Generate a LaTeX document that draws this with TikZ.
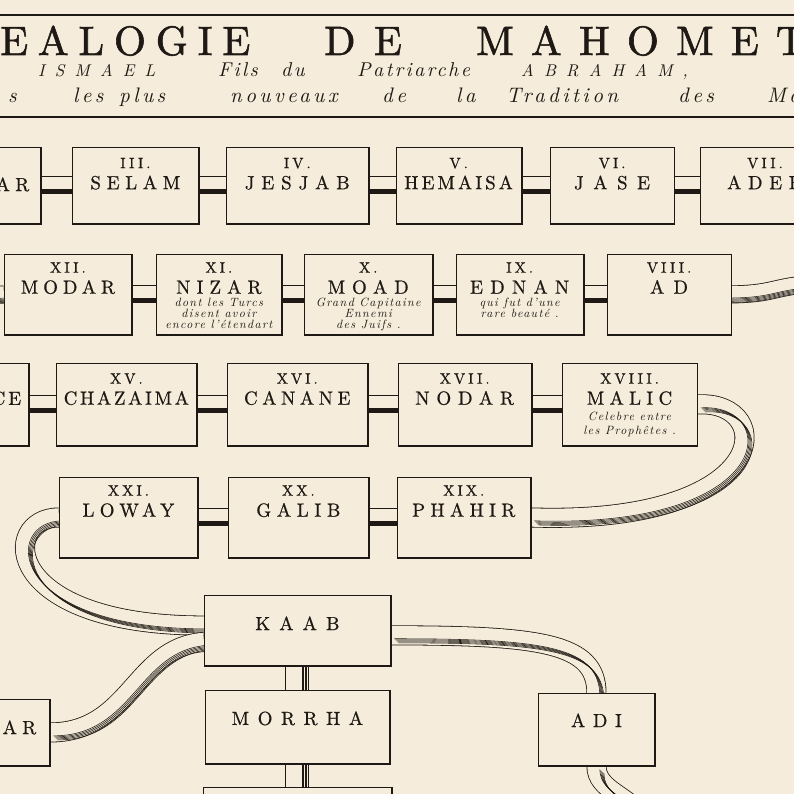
\documentclass[tikz,border=0pt]{standalone}
\usepackage{fontspec}
\setmainfont{lmroman10-regular.otf}[ItalicFont=lmroman10-italic.otf, BoldFont=lmroman10-bold.otf]
\newfontfamily\namefont{lmroman10-regular.otf}[FakeBold=0.6]
\newfontfamily\titlefont{lmroman10-regular.otf}[FakeBold=1.4]
\usetikzlibrary{positioning,backgrounds}

\definecolor{paper}{RGB}{245,236,219}
\definecolor{ink}{RGB}{30,25,20}

% text inside the boxes
\newcommand\gnum[1]{{\fontsize{15bp}{21bp}\namefont\addfontfeatures{LetterSpace=20}#1\par}}
\newcommand\gname[2][30]{{\fontsize{19bp}{21bp}\namefont\addfontfeatures{LetterSpace=#1}#2\par}}
\newcommand\gdesc[2][11bp]{\vspace{2bp}{\fontsize{12bp}{#1}\selectfont\itshape\addfontfeatures{LetterSpace=11}#2\par}}

% engraved tube joining two boxes, hatched on the side (#2,#3)
\newcommand\tube[4][18]{%
  \draw[ink, line width=#1bp] #4;
  \draw[paper, line width=#1bp-1.6bp] #4;
  \foreach \hh in {0.4,0.52,0.64,0.76,0.88}
    \draw[ink, line width=.55bp, transform canvas={shift={(#2*\hh*#1/2,#3*\hh*#1/2)}}] #4;
}

\begin{document}
\begin{tikzpicture}[x=1bp, y=-1bp,
    box/.style n args={3}{draw=ink, fill=paper, text=ink, line width=.9bp, inner sep=0pt, anchor=north west,
      execute at begin node={\begin{minipage}[c][#2][t]{#1}\centering\vspace*{#3}},
      execute at end node={\end{minipage}}},
    stub/.style={draw=ink, fill=paper, line width=.9bp, inner sep=0pt, minimum width=188bp, minimum height=60bp},
    boxshade/.style={draw=ink, line width=1.9bp},
    head/.style={inner sep=0pt, anchor=base west, text=ink},
    title/.style={head, font=\fontsize{41bp}{41bp}\titlefont},
    capsline/.style={head, font=\fontsize{17bp}{17bp}\selectfont\itshape\addfontfeatures{LetterSpace=60}},
    script/.style={head, font=\fontsize{20bp}{20bp}\selectfont\itshape\addfontfeatures{LetterSpace=12}},
  ]
\begin{scope}[on background layer]
  \clip (0,0) rectangle (794,794);
  \fill[paper] (0,0) rectangle (794,794);
\end{scope}
\useasboundingbox (0,0) rectangle (794,794);
\clip (0,0) rectangle (794,794);

% header
\draw[ink, line width=2.2bp] (0,15) -- (794,15);
\draw[ink, line width=2.4bp] (0,117) -- (794,117);
\node[title] (titA) at (0,55) {\addfontfeatures{LetterSpace=24}EALOGIE};
\node[title] (titB) at (324,55) {\addfontfeatures{LetterSpace=45}DE};
\node[title] (titC) at (476,55) {\addfontfeatures{LetterSpace=42}MAHOMET};
\node[capsline] (ismael) at (38,77) {ISMAEL};
\node[script] (fils) at (218,77) {Fils};
\node[script] (du) at (281,77) {du};
\node[script] (patri) at (357,77) {Patriarche};
\node[capsline] (abraham) at (521,77) {ABRAHAM,};
\foreach \x/\w [count=\i] in {8/s,73/les,119/plus,230/nouveaux,382/de,456/la,506/Tradition,678/des,767/Ma}
  \node[script, font=\fontsize{21bp}{21bp}\selectfont\itshape\addfontfeatures{LetterSpace=16}] (trad\i) at (\x,102) {\w};

% row I
\node[box={56bp}{76bp}{30bp}] (kedar) at (-16,147) {\gname[28]{AR}};
\node[box={126bp}{76bp}{10.5bp}, right=31bp of kedar] (selam) {\gnum{III.}\gname[30]{SELAM}};
\node[box={142bp}{76bp}{10.5bp}, right=27bp of selam] (jesjab) {\gnum{IV.}\gname[36]{JESJAB}};
\node[box={125bp}{76bp}{10.5bp}, right=27bp of jesjab] (hemaisa) {\gnum{V.}\gname[16]{HEMAISA}};
\node[box={124bp}{76bp}{10.5bp}, right=28bp of hemaisa] (jase) {\gnum{VI.}\gname[50]{JASE}};
\node[box={130bp}{76bp}{10.5bp}, right=25bp of jase] (ader) {\gnum{VII.}\gname[35]{ADER}};

% row II
\node[box={127bp}{80bp}{8bp}] (modar) at (4,254) {\gnum{XII.}\gname[26]{MODAR}};
\node[box={125bp}{80bp}{8bp}, right=24bp of modar] (nizar) {\gnum{XI.}\gname[32]{NIZAR}%
  \gdesc{dont les Turcs\\disent avoir\\encore l'étendart}};
\node[box={128bp}{80bp}{8bp}, right=22bp of nizar] (moad) {\gnum{X.}\gname[36]{MOAD}%
  \gdesc{Grand Capitaine\\Ennemi\\des Juifs .}};
\node[box={127bp}{80bp}{8bp}, right=23bp of moad] (ednan) {\gnum{IX.}\gname[38]{EDNAN}%
  \gdesc{qui fut d'une\\rare beauté .}};
\node[box={124bp}{80bp}{8bp}, right=23bp of ednan] (ad) {\gnum{VIII.}\gname[48]{AD}};

% row III
\node[box={44bp}{82bp}{28bp}] (modrece) at (-16,363) {\gname[15]{CE}};
\node[box={140bp}{82bp}{10bp}, right=27bp of modrece] (chazaima) {\gnum{XV.}\gname[14]{CHAZAIMA}};
\node[box={140bp}{82bp}{10bp}, right=30bp of chazaima] (canane) {\gnum{XVI.}\gname[24]{CANANE}};
\node[box={133bp}{82bp}{10bp}, right=30bp of canane] (nodar) {\gnum{XVII.}\gname[36]{NODAR}};
\node[box={135bp}{82bp}{10bp}, right=30bp of nodar] (malic) {\gnum{XVIII.}\gname[28]{MALIC}%
  \gdesc[14bp]{Celebre entre\\les Prophêtes .}};

% row IV
\node[box={138bp}{80bp}{8bp}] (loway) at (59,477) {\gnum{XXI.}\gname[28]{LOWAY}};
\node[box={140bp}{80bp}{8bp}, right=30bp of loway] (galib) {\gnum{XX.}\gname[30]{GALIB}};
\node[box={133bp}{80bp}{8bp}, right=28bp of galib] (phahir) {\gnum{XIX.}\gname[28]{PHAHIR}};

% last rows
\node[box={186bp}{70bp}{21bp}] (kaab) at (204,595) {\gname[48]{KAAB}};
\node[box={185bp}{73bp}{21bp}, below=24bp of kaab] (morrha) {\gname[45]{MORRHA}};
\node[stub, below=23bp of morrha] (morrhason) {};
\node[box={60bp}{66bp}{21bp}] (amar) at (-11,699) {\gname[28]{AR}};
\node[box={116bp}{72bp}{20bp}] (adi) at (538,693) {\gname[40]{ADI}};

\foreach \n in {kedar,selam,jesjab,hemaisa,jase,ader,modar,nizar,moad,ednan,ad,
    modrece,chazaima,canane,nodar,malic,loway,galib,phahir,kaab,morrha,morrhason,amar,adi}
  \draw[boxshade] (\n.north east) -- (\n.south east) -- (\n.south west);

\coordinate (offL) at (-20,296);
\coordinate (offR) at (830,283);
\coordinate (offB) at (645,820);

% tubes
\begin{scope}[on background layer]
  \clip (0,0) rectangle (794,794);
  \foreach \a/\b in {kedar/selam,selam/jesjab,jesjab/hemaisa,hemaisa/jase,jase/ader,
      modar/nizar,nizar/moad,moad/ednan,ednan/ad,
      modrece/chazaima,chazaima/canane,canane/nodar,nodar/malic,
      loway/galib,galib/phahir}
    \tube{0}{1}{(\a.east) -- (\b.west)};
  \tube{0}{1}{(offL) -- (modar.west)};
  \tube{0}{1}{(ad.east) .. controls +(50,-1) and +(-60,2) .. (offR)};
  \tube[20]{.85}{.85}{(malic.east) .. controls +(80,-5) and +(245,8) .. (phahir.east)};
  \tube[20]{.85}{.85}{(loway.west) .. controls +(-59,0) and +(-204,0) .. (kaab.177)};
  \tube[20]{.85}{.85}{(amar.east) .. controls +(81,0) and +(-70,5) .. (kaab.187)};
  \tube[20]{.85}{.85}{(kaab.357) .. controls +(150,0) and +(0,-50) .. (adi.north)};
  \tube[20]{.85}{.85}{(adi.south) .. controls +(0,25) and +(-15,-25) .. (offB)};
  \tube[24]{1}{0}{(kaab.south) -- (morrha.north)};
  \tube[24]{1}{0}{(morrha.south) -- (morrhason.north)};
\end{scope}
\end{tikzpicture}
\end{document}
